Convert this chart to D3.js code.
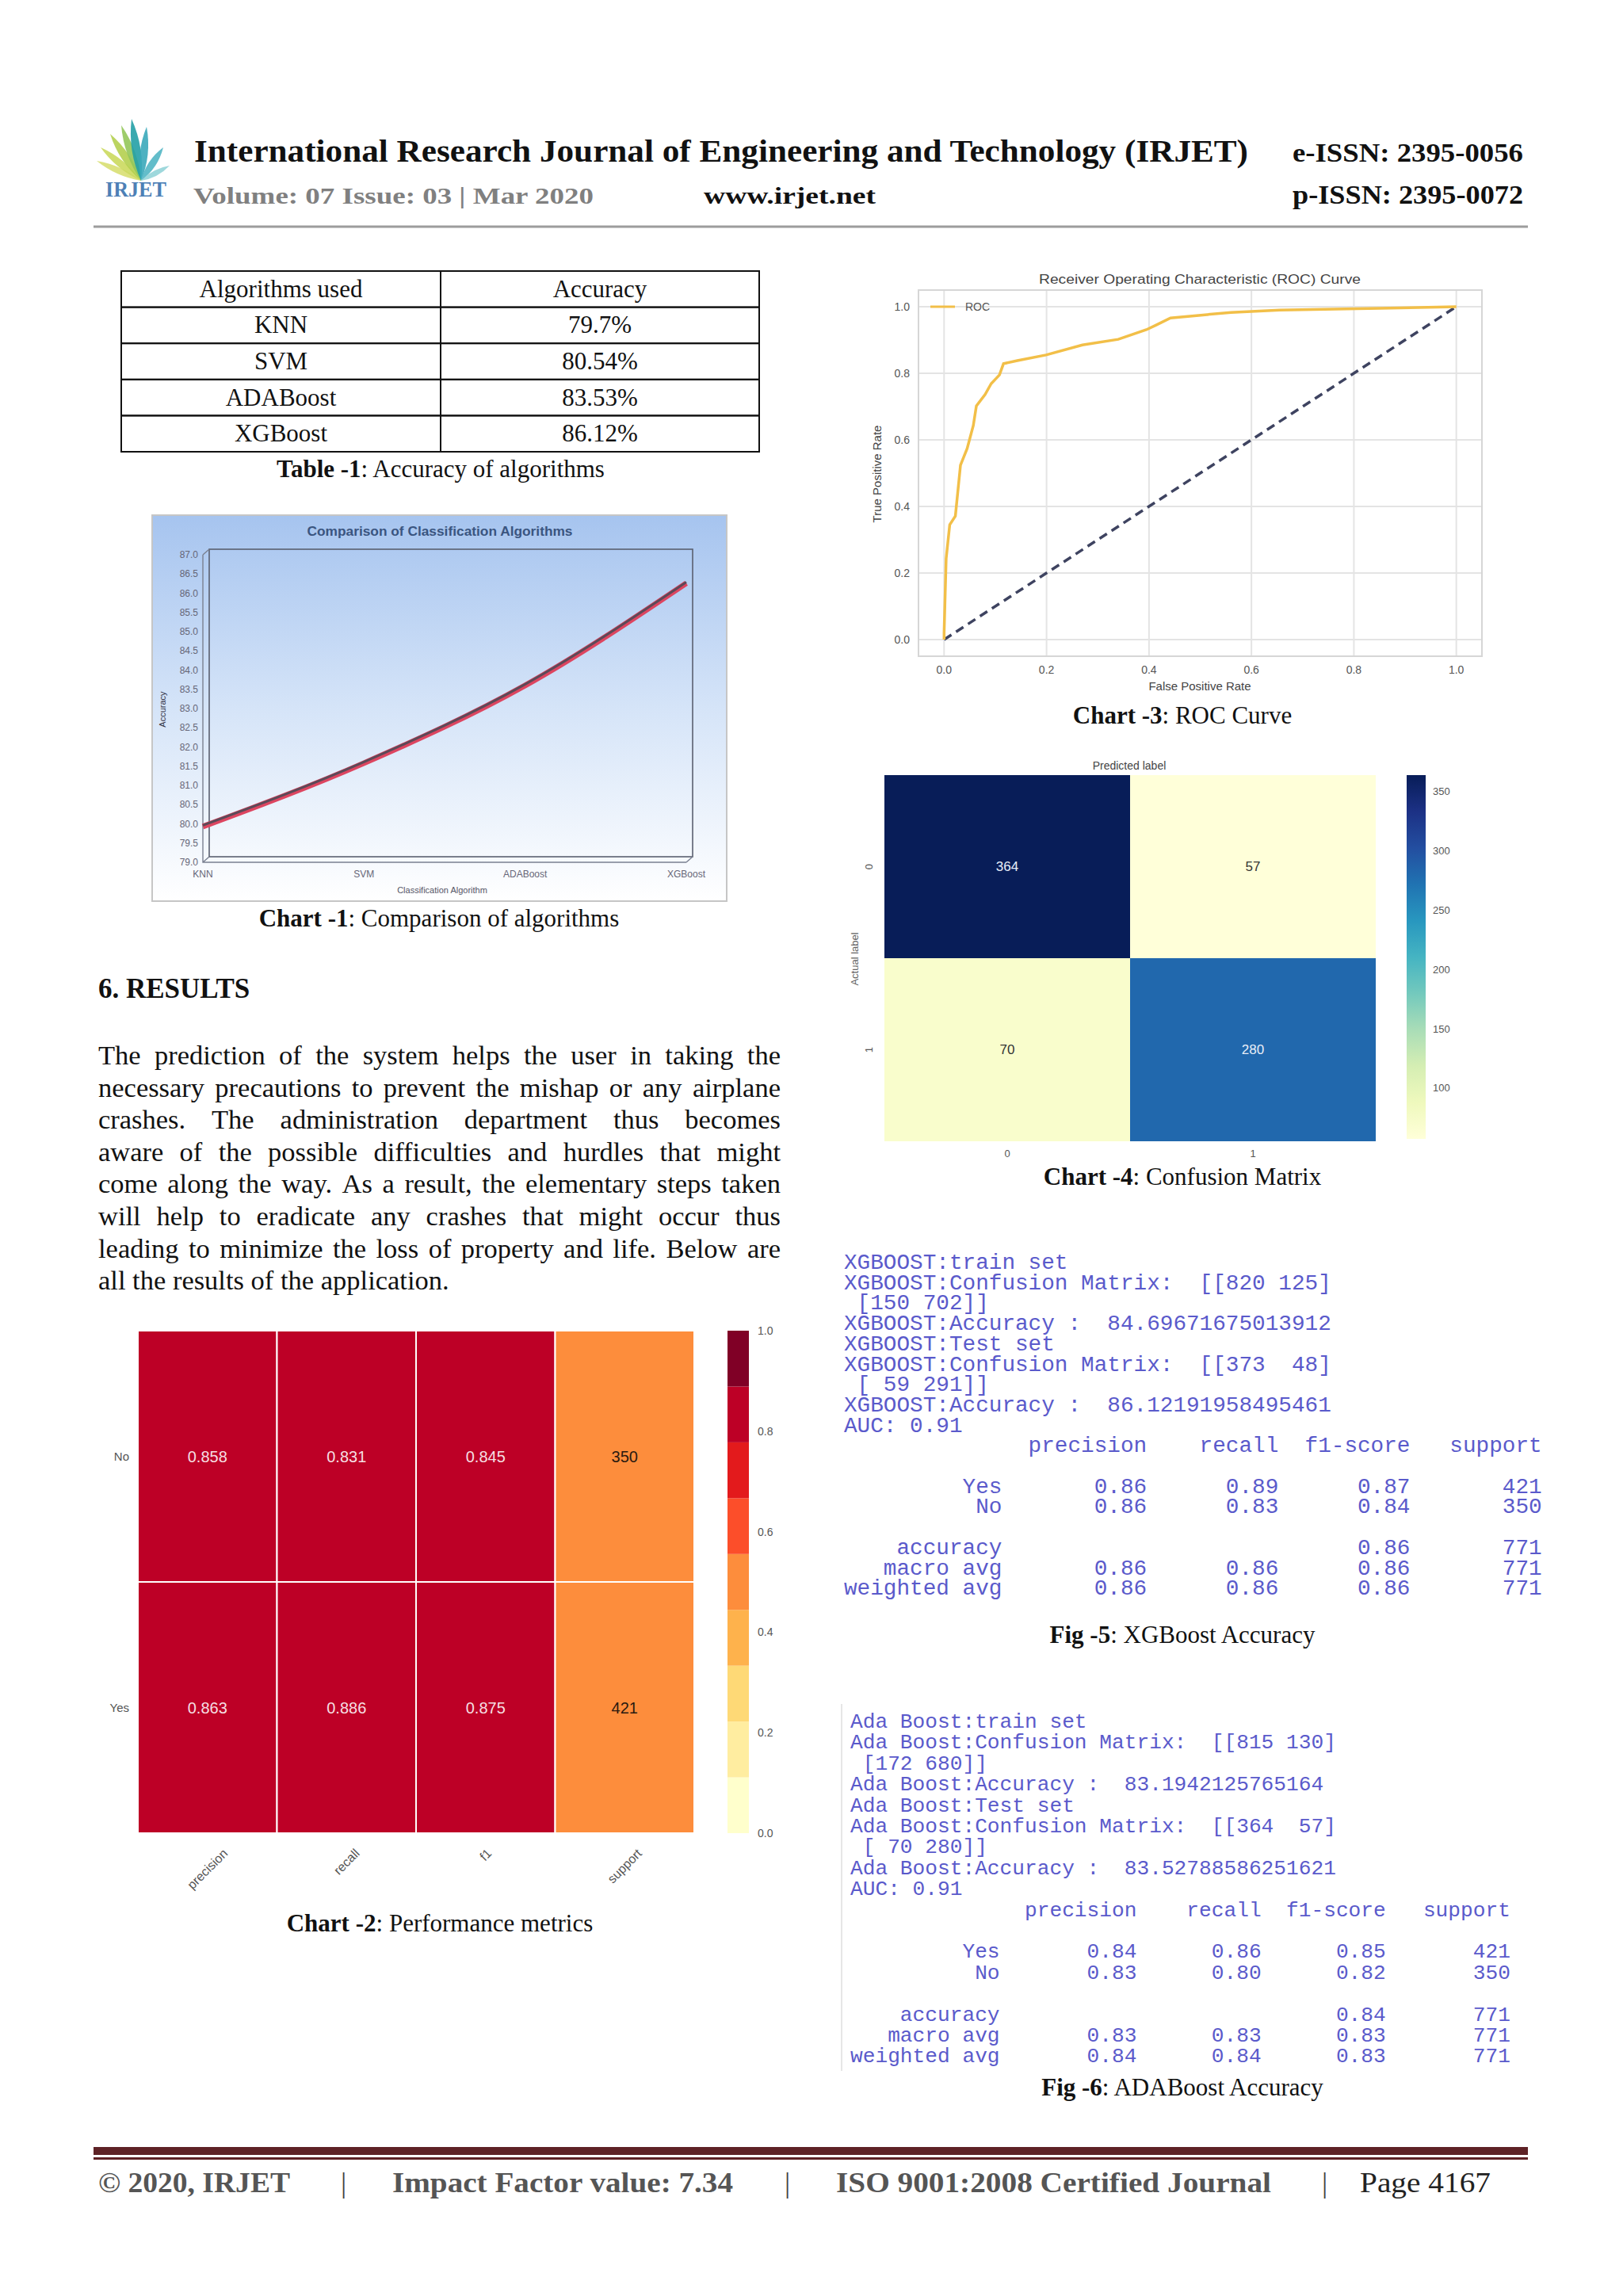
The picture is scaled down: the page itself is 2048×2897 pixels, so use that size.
<!DOCTYPE html>
<html>
<head>
<meta charset="utf-8">
<title>IRJET page 4167</title>
<script src="https://cdn.jsdelivr.net/npm/d3@7"></script>
<style>
  html, body { margin: 0; padding: 0; background: #fff; }
  svg { display: block; }
</style>
</head>
<body>
<div id="page"></div>
<script>
// ---- data ----
const algorithms = ["KNN", "SVM", "ADABoost", "XGBoost"]
const tableAccuracy = ["79.7%", "80.54%", "83.53%", "86.12%"]
const chartAccuracy = [79.93, 81.58, 83.6, 86.26]
const accuracyTicks = [79.0, 79.5, 80.0, 80.5, 81.0, 81.5, 82.0, 82.5, 83.0, 83.5, 84.0, 84.5, 85.0, 85.5, 86.0, 86.5, 87.0]

const rocFpr = [0, 0, 0.004, 0.011, 0.022, 0.032, 0.045, 0.057, 0.063, 0.08, 0.092, 0.108, 0.116, 0.143, 0.199, 0.27, 0.34, 0.395, 0.414, 0.442, 0.497, 0.56, 0.655, 0.85, 1.0]
const rocTpr = [0, 0.02, 0.243, 0.345, 0.371, 0.524, 0.574, 0.643, 0.702, 0.736, 0.769, 0.795, 0.829, 0.838, 0.855, 0.885, 0.902, 0.931, 0.945, 0.966, 0.974, 0.983, 0.99, 0.995, 1.0]
const rocTicks = [0, 0.2, 0.4, 0.6, 0.8, 1.0]

const cmLabels = ["0", "1"]
const cmRow0 = [364, 57]
const cmRow1 = [70, 280]
const cmTicks = [100, 150, 200, 250, 300, 350]

const metricCols = ["precision", "recall", "f1", "support"]
const metricRows = ["No", "Yes"]
const metricNo = [0.858, 0.831, 0.845, 350]
const metricYes = [0.863, 0.886, 0.875, 421]
const metricTicks = [0, 0.2, 0.4, 0.6, 0.8, 1.0]

const reportCols = ["precision", "recall", "f1-score", "support"]
const xgbTrainCm = [[820, 125], [150, 702]]
const xgbTestCm = [[373, 48], [59, 291]]
const xgbAcc = ["84.69671675013912", "86.12191958495461"]
const xgbYes = [0.86, 0.89, 0.87, 421]
const xgbNo = [0.86, 0.83, 0.84, 350]
const xgbAvg = [[null, null, 0.86, 771], [0.86, 0.86, 0.86, 771], [0.86, 0.86, 0.86, 771]]

const adaTrainCm = [[815, 130], [172, 680]]
const adaTestCm = [[364, 57], [70, 280]]
const adaAcc = ["83.1942125765164", "83.52788586251621"]
const adaYes = [0.84, 0.86, 0.85, 421]
const adaNo = [0.83, 0.80, 0.82, 350]
const adaAvg = [[null, null, 0.84, 771], [0.83, 0.83, 0.83, 771], [0.84, 0.84, 0.83, 771]]

const paragraph = [
  "The prediction of the system helps the user in taking the",
  "necessary precautions to prevent the mishap or any airplane",
  "crashes. The administration department thus becomes",
  "aware of the possible difficulties and hurdles that might",
  "come along the way. As a result, the elementary steps taken",
  "will help to eradicate any crashes that might occur thus",
  "leading to minimize the loss of property and life. Below are",
  "all the results of the application."
]

// ---- page ----
const W = 2048, H = 2897
const serif = "'Liberation Serif', 'Times New Roman', serif"
const sans = "'Liberation Sans', Arial, sans-serif"
const mono = "'Liberation Mono', 'Courier New', monospace"

const svg = d3.select("#page").append("svg")
  .attr("width", W).attr("height", H)
  .attr("viewBox", [0, 0, W, H])
svg.append("rect").attr("width", W).attr("height", H).attr("fill", "#fff")
const defs = svg.append("defs")

function label(parent, str, x, y, o = {}) {
  const t = parent.append("text")
    .attr("x", x).attr("y", y)
    .attr("font-family", o.family || sans)
    .attr("font-size", o.size || 14)
    .attr("font-weight", o.weight || "normal")
    .attr("fill", o.fill || "#333")
    .attr("text-anchor", o.anchor || "start")
    .text(str)
  if (o.len) t.attr("textLength", o.len).attr("lengthAdjust", "spacingAndGlyphs")
  if (o.rotate) t.attr("transform", `rotate(${o.rotate},${x},${y})`)
  if (o.dy) t.attr("dy", o.dy)
  return t
}

function caption(boldPart, rest, cx, y) {
  const t = svg.append("text")
    .attr("x", cx).attr("y", y)
    .attr("text-anchor", "middle")
    .attr("font-family", serif).attr("font-size", 31).attr("fill", "#111")
  t.append("tspan").attr("font-weight", "bold").text(boldPart)
  t.append("tspan").text(rest)
}

// ---- header ----
const logo = svg.append("g")
const leaves = [
  [122, 203, 8, "#d8df72"], [127, 186, 9, "#cbd95e"], [139, 169, 10, "#b4cf4f"],
  [153, 158, 10, "#93c65a"], [166, 150, 11, "#23a0a6"], [185, 160, 10, "#3aa9ba"],
  [206, 186, 9, "#52b6c4"], [214, 209, 7, "#93d4d8"]
]
const base = [178, 228]
leaves.forEach(([tx, ty, w, c]) => {
  const mx = (base[0] + tx) / 2, my = (base[1] + ty) / 2
  const dx = tx - base[0], dy = ty - base[1]
  const L = Math.hypot(dx, dy), px = -dy / L * w, py = dx / L * w
  logo.append("path")
    .attr("d", `M${base[0]},${base[1]} Q${mx + px},${my + py} ${tx},${ty} Q${mx - px},${my - py} ${base[0]},${base[1]}Z`)
    .attr("fill", c).attr("opacity", 0.9)
})
label(logo, "IRJET", 133, 248, { family: serif, size: 27, weight: "bold", fill: "#4d80b6", len: 77 })

label(svg, "International Research Journal of Engineering and Technology (IRJET)", 245, 204,
  { family: serif, size: 40, weight: "bold", fill: "#111", len: 1330 })
label(svg, "e-ISSN: 2395-0056", 1631, 204, { family: serif, size: 33, weight: "bold", fill: "#111", len: 291 })
label(svg, "Volume: 07 Issue: 03 | Mar 2020", 244, 257, { family: serif, size: 30, weight: "bold", fill: "#808080", len: 505 })
label(svg, "www.irjet.net", 888, 257, { family: serif, size: 30, weight: "bold", fill: "#111", len: 217 })
label(svg, "p-ISSN: 2395-0072", 1631, 257, { family: serif, size: 33, weight: "bold", fill: "#111", len: 291 })
svg.append("line").attr("x1", 118).attr("x2", 1928).attr("y1", 286).attr("y2", 286)
  .attr("stroke", "#9c9c9c").attr("stroke-width", 3)

// ---- Table 1 ----
const tbl = svg.append("g")
const rowsT = ["head", ...algorithms]
const ty = d3.scaleBand().domain(rowsT).range([342, 570])
const tRight = 958
rowsT.forEach((r, i) => {
  const y = ty(r)
  tbl.append("rect").attr("x", 153).attr("y", y).attr("width", tRight - 153).attr("height", ty.bandwidth())
    .attr("fill", "none").attr("stroke", "#111").attr("stroke-width", 2)
  const a = i === 0 ? "Algorithms used" : r
  const b = i === 0 ? "Accuracy" : tableAccuracy[i - 1]
  label(tbl, a, (153 + 556) / 2, y + ty.bandwidth() / 2 + 10, { family: serif, size: 31, anchor: "middle", fill: "#111" })
  label(tbl, b, (556 + tRight) / 2, y + ty.bandwidth() / 2 + 10, { family: serif, size: 31, anchor: "middle", fill: "#111" })
})
tbl.append("line").attr("x1", 556).attr("x2", 556).attr("y1", 342).attr("y2", 570).attr("stroke", "#111").attr("stroke-width", 2)
caption("Table -1", ": Accuracy of algorithms", 556, 602)

// ---- Chart 1: comparison line ----
const g1 = defs.append("linearGradient").attr("id", "c1bg").attr("x1", 0).attr("y1", 0).attr("x2", 0).attr("y2", 1)
g1.append("stop").attr("offset", "0%").attr("stop-color", "#a6c4ef")
g1.append("stop").attr("offset", "50%").attr("stop-color", "#d5e4f8")
g1.append("stop").attr("offset", "100%").attr("stop-color", "#ffffff")
const c1 = svg.append("g")
c1.append("rect").attr("x", 192).attr("y", 650).attr("width", 725).attr("height", 487)
  .attr("fill", "url(#c1bg)").attr("stroke", "#c6c6c6").attr("stroke-width", 2)
label(c1, "Comparison of Classification Algorithms", 555, 676, { size: 16, weight: "bold", fill: "#3a5580", anchor: "middle", len: 335 })

const c1x = d3.scalePoint().domain(algorithms).range([256, 866])
const c1y = d3.scaleLinear().domain([79, 87]).range([1088, 700])
const dep = [8, -7]
const [fx0, fx1] = c1x.range(), fyTop = c1y(87), fyBot = c1y(79)
c1.append("rect").attr("x", fx0 + dep[0]).attr("y", fyTop + dep[1])
  .attr("width", fx1 - fx0).attr("height", fyBot - fyTop)
  .attr("fill", "none").attr("stroke", "#5a6070").attr("stroke-width", 1.6)
c1.append("path")
  .attr("d", `M${fx0},${fyTop}V${fyBot}H${fx1}M${fx0},${fyTop}l${dep[0]},${dep[1]}M${fx0},${fyBot}l${dep[0]},${dep[1]}M${fx1},${fyBot}l${dep[0]},${dep[1]}`)
  .attr("fill", "none").attr("stroke", "#7a8090").attr("stroke-width", 1.4)
accuracyTicks.forEach(v => {
  label(c1, v.toFixed(1), fx0 - 6, c1y(v), { size: 12, fill: "#667", anchor: "end", dy: "0.35em" })
})
algorithms.forEach(a => label(c1, a, c1x(a), 1107, { size: 12, fill: "#667", anchor: "middle" }))
label(c1, "Classification Algorithm", 558, 1127, { size: 11, fill: "#556", anchor: "middle" })
label(c1, "Accuracy", 209, 895, { size: 11, fill: "#334", anchor: "middle", rotate: -90 })
const line1 = d3.line().x((d, i) => c1x(algorithms[i])).y(d => c1y(d)).curve(d3.curveMonotoneX)
c1.append("path").datum(chartAccuracy).attr("d", line1)
  .attr("fill", "none").attr("stroke", "#dd4560").attr("stroke-width", 7)
c1.append("path").datum(chartAccuracy).attr("d", line1).attr("transform", "translate(0,-1.5)")
  .attr("fill", "none").attr("stroke", "#5c4a58").attr("stroke-width", 3)
caption("Chart -1", ": Comparison of algorithms", 554, 1169)

// ---- Results text ----
label(svg, "6. RESULTS", 124, 1259, { family: serif, size: 35, weight: "bold", fill: "#111" })
const pLeft = 124, pRight = 985, pSize = 34.5
paragraph.forEach((line, i) => {
  const y = 1343 + i * 40.6
  const words = line.split(" ")
  const g = svg.append("g")
  const nodes = words.map(w => label(g, w, 0, y, { family: serif, size: pSize, fill: "#111" }))
  const widths = nodes.map(n => n.node().getComputedTextLength())
  const last = i === paragraph.length - 1
  let gap = last ? pSize * 0.25 : (pRight - pLeft - d3.sum(widths)) / (words.length - 1)
  let k = 1
  if (gap < 5) { // too tight: squeeze the words a little
    gap = 5
    k = (pRight - pLeft - gap * (words.length - 1)) / d3.sum(widths)
  }
  let x = pLeft
  nodes.forEach((n, j) => {
    n.attr("x", x)
    if (k < 1) n.attr("textLength", widths[j] * k).attr("lengthAdjust", "spacingAndGlyphs")
    x += widths[j] * k + gap
  })
})

// ---- Chart 2: performance metrics heatmap ----
const c2 = svg.append("g")
const pmx = d3.scaleBand().domain(metricCols).range([174, 876])
const pmy = d3.scaleBand().domain(metricRows).range([1679, 2313])
const pmColor = d3.scaleQuantize().domain([0, 1]).range(d3.schemeYlOrRd[9])
const supportTotal = metricNo[3] + metricYes[3]
;[metricNo, metricYes].forEach((row, ri) => {
  const rname = metricRows[ri]
  row.forEach((v, ci) => {
    const col = metricCols[ci]
    const isSupport = col === "support"
    const cv = isSupport ? v / supportTotal : v
    c2.append("rect").attr("x", pmx(col)).attr("y", pmy(rname))
      .attr("width", pmx.bandwidth()).attr("height", pmy.bandwidth())
      .attr("fill", pmColor(cv)).attr("stroke", "#fff").attr("stroke-width", 2)
    label(c2, isSupport ? String(v) : v.toFixed(3), pmx(col) + pmx.bandwidth() / 2, pmy(rname) + pmy.bandwidth() / 2,
      { size: 20, anchor: "middle", dy: "0.35em", fill: cv > 0.6 ? "#f6dfe2" : "#2a1a10" })
  })
  label(c2, rname, 163, pmy(rname) + pmy.bandwidth() / 2, { size: 15, anchor: "end", dy: "0.35em", fill: "#555" })
})
metricCols.forEach(col => {
  const t = label(c2, col, 0, 0, { size: 16, anchor: "middle", fill: "#555" }).attr("dominant-baseline", "central")
  const len = t.node().getComputedTextLength()
  const half = (len + 16) * Math.SQRT1_2 / 2
  t.attr("transform", `translate(${pmx(col) + pmx.bandwidth() / 2},${2330 + half}) rotate(-45)`)
})
const cb2 = d3.scaleLinear().domain([0, 1]).range([2313, 1679])
const bins = pmColor.range().map((c, i) => [i / 9, (i + 1) / 9, c])
bins.forEach(([a, b, c]) => {
  c2.append("rect").attr("x", 918).attr("y", cb2(b)).attr("width", 27).attr("height", cb2(a) - cb2(b)).attr("fill", c)
})
metricTicks.forEach(v => label(c2, v.toFixed(1), 956, cb2(v), { size: 14, dy: "0.35em", fill: "#555" }))
caption("Chart -2", ": Performance metrics", 555, 2437)

// ---- Chart 3: ROC ----
const c3 = svg.append("g")
const rx = d3.scaleLinear().domain([-0.05, 1.05]).range([1159, 1870])
const ry = d3.scaleLinear().domain([-0.05, 1.05]).range([828, 366])
rocTicks.forEach(v => {
  c3.append("line").attr("x1", rx(v)).attr("x2", rx(v)).attr("y1", ry(-0.05)).attr("y2", ry(1.05)).attr("stroke", "#e4e4e4").attr("stroke-width", 2)
  c3.append("line").attr("y1", ry(v)).attr("y2", ry(v)).attr("x1", rx(-0.05)).attr("x2", rx(1.05)).attr("stroke", "#e4e4e4").attr("stroke-width", 2)
  label(c3, v.toFixed(1), rx(v), 850, { size: 14, anchor: "middle", fill: "#555" })
  label(c3, v.toFixed(1), 1148, ry(v), { size: 14, anchor: "end", dy: "0.35em", fill: "#555" })
})
c3.append("rect").attr("x", rx(-0.05)).attr("y", ry(1.05)).attr("width", rx(1.05) - rx(-0.05)).attr("height", ry(-0.05) - ry(1.05))
  .attr("fill", "none").attr("stroke", "#d6d6d6").attr("stroke-width", 2)
c3.append("path").datum([0, 1]).attr("d", d3.line().x(d => rx(d)).y(d => ry(d)))
  .attr("fill", "none").attr("stroke", "#3e4360").attr("stroke-width", 3.5).attr("stroke-dasharray", "11,7")
c3.append("path").datum(rocFpr.map((f, i) => [f, rocTpr[i]]))
  .attr("d", d3.line().x(d => rx(d[0])).y(d => ry(d[1])))
  .attr("fill", "none").attr("stroke", "#f2bf48").attr("stroke-width", 3.5)
c3.append("line").attr("x1", 1174).attr("x2", 1205).attr("y1", ry(1)).attr("y2", ry(1)).attr("stroke", "#f2bf48").attr("stroke-width", 3)
label(c3, "ROC", 1218, ry(1), { size: 14, dy: "0.35em", fill: "#555" })
label(c3, "Receiver Operating Characteristic (ROC) Curve", 1514, 358, { size: 17, anchor: "middle", fill: "#444", len: 406 })
label(c3, "False Positive Rate", 1514, 871, { size: 15, anchor: "middle", fill: "#444" })
label(c3, "True Positive Rate", 1112, 598, { size: 15, anchor: "middle", fill: "#444", rotate: -90 })
caption("Chart -3", ": ROC Curve", 1492, 913)

// ---- Chart 4: confusion matrix ----
const c4 = svg.append("g")
const cmx = d3.scaleBand().domain(cmLabels).range([1116, 1736])
const cmy = d3.scaleBand().domain(cmLabels).range([978, 1440])
const cmExtent = d3.extent([...cmRow0, ...cmRow1])
const cmColor = d3.scaleSequential(d3.interpolateYlGnBu).domain(cmExtent)
;[cmRow0, cmRow1].forEach((row, ri) => {
  row.forEach((v, ci) => {
    c4.append("rect").attr("x", cmx(cmLabels[ci])).attr("y", cmy(cmLabels[ri]))
      .attr("width", cmx.bandwidth()).attr("height", cmy.bandwidth()).attr("fill", cmColor(v))
    const t = (v - cmExtent[0]) / (cmExtent[1] - cmExtent[0])
    label(c4, String(v), cmx(cmLabels[ci]) + cmx.bandwidth() / 2, cmy(cmLabels[ri]) + cmy.bandwidth() / 2,
      { size: 17, anchor: "middle", dy: "0.35em", fill: t > 0.5 ? "#e8eef8" : "#333" })
  })
})
cmLabels.forEach(l => {
  label(c4, l, cmx(l) + cmx.bandwidth() / 2, 1460, { size: 13, anchor: "middle", fill: "#555" })
  label(c4, l, 1101, cmy(l) + cmy.bandwidth() / 2, { size: 13, anchor: "middle", fill: "#555", rotate: -90 })
})
label(c4, "Predicted label", 1425, 971, { size: 14, anchor: "middle", fill: "#444" })
label(c4, "Actual label", 1083, 1210, { size: 13, anchor: "middle", fill: "#666", rotate: -90 })
const cbs = d3.scaleLinear().domain(cmExtent).range([1437, 978])
const g4 = defs.append("linearGradient").attr("id", "cmbar").attr("x1", 0).attr("y1", 1).attr("x2", 0).attr("y2", 0)
d3.range(0, 1.0001, 0.1).forEach(t => g4.append("stop").attr("offset", t).attr("stop-color", d3.interpolateYlGnBu(t)))
c4.append("rect").attr("x", 1775).attr("y", cbs(cmExtent[1])).attr("width", 24)
  .attr("height", cbs(cmExtent[0]) - cbs(cmExtent[1])).attr("fill", "url(#cmbar)")
cmTicks.forEach(v => label(c4, String(v), 1808, cbs(v), { size: 13, dy: "0.35em", fill: "#555" }))
caption("Chart -4", ": Confusion Matrix", 1492, 1495)

// ---- console output blocks ----
function npMatrix(m) {
  const w = d3.max(m.flat(), v => String(v).length)
  const r = row => row.map(v => String(v).padStart(w)).join(" ")
  return ["[[" + r(m[0]) + "]", " [" + r(m[1]) + "]]"]
}
function reportRow(name, vals) {
  const cells = vals.map((v, i) => i === 3 ? String(v).padStart(9) : (v === null ? " ".repeat(9) : v.toFixed(2).padStart(9)))
  return name.padStart(12) + " " + cells.map(c => " " + c).join("")
}
function consoleLines(prefix, trainCm, testCm, acc, yes, no, avg) {
  const tr = npMatrix(trainCm), te = npMatrix(testCm)
  return [
    prefix + ":train set",
    prefix + ":Confusion Matrix:  " + tr[0],
    tr[1],
    prefix + ":Accuracy :  " + acc[0],
    prefix + ":Test set",
    prefix + ":Confusion Matrix:  " + te[0],
    te[1],
    prefix + ":Accuracy :  " + acc[1],
    "AUC: 0.91",
    " ".repeat(13) + reportCols.map(c => " " + c.padStart(9)).join(""),
    "",
    reportRow("Yes", yes),
    reportRow("No", no),
    "",
    reportRow("accuracy", avg[0]),
    reportRow("macro avg", avg[1]),
    reportRow("weighted avg", avg[2])
  ]
}
function drawConsole(lines, x, y0, step, size) {
  const g = svg.append("g")
  lines.forEach((l, i) => {
    g.append("text").attr("x", x).attr("y", y0 + i * step)
      .attr("font-family", mono).attr("font-size", size).attr("fill", "#5a5acb")
      .style("white-space", "pre").text(l)
  })
}
drawConsole(consoleLines("XGBOOST", xgbTrainCm, xgbTestCm, xgbAcc, xgbYes, xgbNo, xgbAvg), 1065, 1601, 25.7, 27.7)
caption("Fig -5", ": XGBoost Accuracy", 1492, 2073)
svg.append("line").attr("x1", 1062).attr("x2", 1062).attr("y1", 2150).attr("y2", 2613).attr("stroke", "#e6e6e6").attr("stroke-width", 2)
drawConsole(consoleLines("Ada Boost", adaTrainCm, adaTestCm, adaAcc, adaYes, adaNo, adaAvg), 1073, 2180, 26.4, 26.2)
caption("Fig -6", ": ADABoost Accuracy", 1492, 2644)

// ---- footer ----
svg.append("rect").attr("x", 118).attr("y", 2709).attr("width", 1810).attr("height", 10).attr("fill", "#5e2226")
svg.append("rect").attr("x", 118).attr("y", 2722).attr("width", 1810).attr("height", 3).attr("fill", "#5e2226")
const foot = [
  ["© 2020, IRJET", 124, 242, "bold", "#555"], ["|", 430, 0, "normal", "#444"],
  ["Impact Factor value: 7.34", 495, 430, "bold", "#555"], ["|", 990, 0, "normal", "#444"],
  ["ISO 9001:2008 Certified Journal", 1055, 549, "bold", "#555"], ["|", 1668, 0, "normal", "#444"],
  ["Page 4167", 1716, 165, "normal", "#222"]
]
foot.forEach(([s, x, len, w, c]) => {
  const o = { family: serif, size: 36, weight: w, fill: c }
  if (len) o.len = len
  label(svg, s, x, 2766, o)
})
</script>
</body>
</html>
